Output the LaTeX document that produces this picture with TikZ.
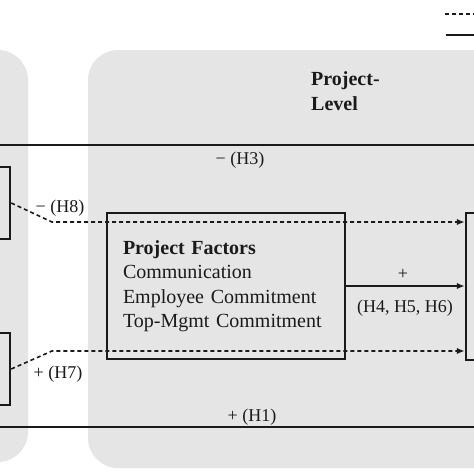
\documentclass[tikz,border=0pt]{standalone}
\usepackage{fontspec}
\setmainfont{Liberation Serif}
\usetikzlibrary{arrows.meta,calc}
\definecolor{panelgray}{HTML}{E5E5E5}
\definecolor{ink}{HTML}{1A1A1A}
\tikzset{
  panel/.style={fill=panelgray, draw=none, rounded corners=30pt},
  factorbox/.style={draw=ink, line width=2.5pt, fill=panelgray, inner sep=0pt},
  conn/.style={draw=ink, line width=1.6pt},
  dconn/.style={conn, dash pattern=on 4pt off 3pt},
  tip/.style={-{Latex[length=8pt,width=6.5pt]}},
  lbl/.style={font=\fontsize{18}{21}\selectfont, text=ink, inner sep=0pt},
  big/.style={font=\fontsize{20}{24.5}\selectfont, text=ink}
}
\begin{document}
\begin{tikzpicture}[x=1pt,y=-1pt]
\useasboundingbox (0,0) rectangle (474,474);
\fill[white] (0,0) rectangle (474,474);
% panels
\path[panel] (-60,50) rectangle (28,462);
\path[panel] (88,50) rectangle (540,468);
% legend
\coordinate (lg1a) at (445,14); \coordinate (lg1b) at (480,14);
\coordinate (lg2a) at (446,35); \coordinate (lg2b) at (480,35);
\draw[dconn] (lg1a) -- (lg1b);
\draw[conn] (lg2a) -- (lg2b);
% title
\node[big, font=\fontsize{20}{25}\selectfont\bfseries, align=left, anchor=north west, inner sep=0pt] (title) at (311,71) {Project-\\Level};
% boxes
\node[factorbox, minimum width=30pt, minimum height=72pt] (leftA) at (-5,203) {};
\node[factorbox, minimum width=30pt, minimum height=72pt] (leftB) at (-5,369) {};
\node[factorbox, minimum width=54pt, minimum height=147pt] (rb) at (493,286.5) {};
\node[factorbox, minimum width=238pt, minimum height=146pt, align=left, text width=206pt, inner xsep=16pt, big] (pf) at (226,286)
  {\textbf{Project Factors}\\Communication\\Employee Commitment\\Top-Mgmt Commitment};
% H3 and H1 lines
\coordinate (h3a) at (-5,145); \coordinate (h3b) at (480,145);
\draw[conn] (h3a) -- (h3b);
\node[lbl] (lh3) at (240,160) {− (H3)};
\coordinate (h1a) at (-5,427); \coordinate (h1b) at (480,427);
\draw[conn] (h1a) -- (h1b);
\node[lbl] (lh1) at (252,417) {+ (H1)};
% dashed H8
\coordinate (k8) at (52,222);
\draw[dconn, tip] (leftA.east) -- (k8) -- (k8 -| rb.west);
\node[lbl] (lh8) at (60,208) {− (H8)};
% dashed H7
\coordinate (k7) at (52,351);
\draw[dconn, tip] (leftB.east) -- (k7) -- (k7 -| rb.west);
\node[lbl] (lh7) at (58,374) {+ (H7)};
% solid H4-H6
\draw[conn, tip] (pf.east) -- (pf.east -| rb.west);
\node[lbl] (lplus) at (403,274) {+};
\node[lbl] (lh456) at (405,308) {(H4, H5, H6)};
\end{tikzpicture}
\end{document}
